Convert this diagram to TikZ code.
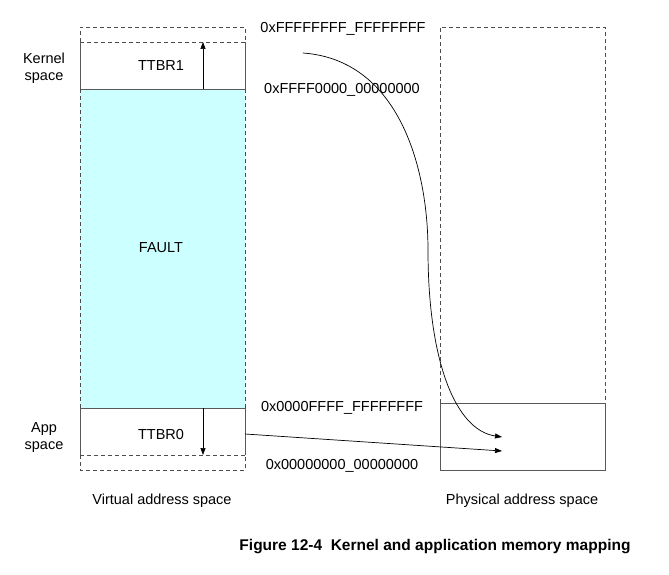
\documentclass[tikz,border=0pt]{standalone}
\usepackage{fontspec}
\setmainfont{Liberation Sans}
\usetikzlibrary{arrows.meta}
\definecolor{faultc}{HTML}{CCFFFF}
\begin{document}
\begin{tikzpicture}[x=1pt,y=-1pt,
  lbl/.style={font=\fontsize{14.5}{17}\selectfont,inner sep=0pt},
  dsh/.style={dashed,gray!60!black,line width=0.7pt,dash pattern=on 4pt off 3pt},
  sol/.style={line width=0.7pt,gray!70!black},
  arr/.style={-{Triangle[length=7pt,width=5pt]},line width=0.7pt}]
\useasboundingbox (0,0) rectangle (669,575);
% left column
\fill[faultc] (80,89) rectangle (245,408);
\draw[dsh] (80,42) -- (80,27) -- (245,27) -- (245,42);
\draw[dsh] (80,42) -- (245,42);
\draw[sol] (80,42) -- (80,89) -- (245,89) -- (245,42);
\draw[dsh] (80,89) -- (80,408) (245,89) -- (245,408);
\draw[sol] (80,455) -- (80,408) -- (245,408) -- (245,455);
\draw[dsh] (80,455) -- (245,455);
\draw[dsh] (80,455) -- (80,470) -- (245,470) -- (245,455);
\coordinate (t1a) at (203,89); \coordinate (t1b) at (203,42);
\coordinate (t0a) at (203,408); \coordinate (t0b) at (203,455);
\draw[arr] (t1a) -- (t1b);
\draw[arr] (t0a) -- (t0b);
% right column
\draw[dsh] (440,403) -- (440,27) -- (605,27) -- (605,403);
\draw[sol] (440,403) rectangle (605,470);
% labels
\node[lbl] (ttbr1) at (161,66) {TTBR1};
\node[lbl] (fault) at (161,248) {FAULT};
\node[lbl] (ttbr0) at (161,435) {TTBR0};
\node[lbl,align=center] (ks) at (44,68) {Kernel\\space};
\node[lbl,align=center] (as) at (44,438) {App\\space};
\node[lbl] (a1) at (343,29) {0xFFFFFFFF\_FFFFFFFF};
\node[lbl] (a2) at (342,90) {0xFFFF0000\_00000000};
\node[lbl] (a3) at (342,408) {0x0000FFFF\_FFFFFFFF};
\node[lbl] (a4) at (342,466) {0x00000000\_00000000};
\node[lbl] (vas) at (162,501) {Virtual address space};
\node[lbl] (pas) at (522,501) {Physical address space};
\node[lbl,font=\fontsize{15.5}{18}\selectfont\bfseries] (cap) at (435,547) {Figure 12-4\ \ Kernel and application memory mapping};
% mapping arrows
\coordinate (c0) at (303,53); \coordinate (c1) at (502,437);
\coordinate (s0) at (245,434); \coordinate (s1) at (502,451);
\draw[arr] (c0) .. controls (400,60) and (428,170) .. (428,250) .. controls (428,360) and (455,430) .. (c1);
\draw[arr] (s0) -- (s1);
\end{tikzpicture}
\end{document}
